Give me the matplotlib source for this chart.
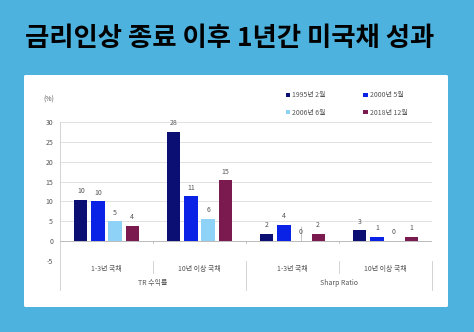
import numpy as np
import matplotlib
matplotlib.use("Agg")
import matplotlib.pyplot as plt
from matplotlib.patches import FancyBboxPatch
import matplotlib.transforms as mtransforms

plt.rcParams['font.family'] = ['Noto Sans CJK KR', 'DejaVu Sans']

# data
title = "금리인상 종료 이후 1년간 미국채 성과"
groups = ["1-3년 국채", "10년 이상 국채", "1-3년 국채", "10년 이상 국채"]
supergroups = ["TR 수익률", "Sharp Ratio"]
series = ["1995년 2월", "2000년 5월", "2006년 6월", "2018년 12월"]
values = [
    [10.3, 27.5, 1.85, 2.7],   # 1995.2
    [10.0, 11.3, 4.1, 1.0],    # 2000.5
    [5.0, 5.7, 0.08, 0.0],     # 2006.6
    [3.9, 15.3, 1.75, 1.1],    # 2018.12
]
labels = [
    ["10", "28", "2", "3"],
    ["10", "11", "4", "1"],
    ["5", "6", "0", "0"],
    ["4", "15", "2", "1"],
]
yticks = [-5, 0, 5, 10, 15, 20, 25, 30]

colors = ["#0b0f73", "#0a22e6", "#8fd2f7", "#7a1a4f"]
bg = "#4db3de"
txt = "#555555"
grid = "#dddddd"

fig = plt.figure(figsize=(4.74, 3.32), dpi=100)
fig.patch.set_facecolor(bg)

# white panel
panel = FancyBboxPatch((24 / 474, 1 - 307 / 332), (448 - 24) / 474, (307 - 75) / 332,
                       boxstyle="round,pad=0,rounding_size=0.004", transform=fig.transFigure,
                       facecolor="white", edgecolor="none", zorder=-5)
fig.patches.append(panel)

fig.text(230 / 474, 1 - 39 / 332, title, ha="center", va="center",
         fontsize=19, fontweight="heavy", color="black")

ax = fig.add_axes([60 / 474, 1 - 261 / 332, (432 - 60) / 474, (261 - 122) / 332])
ax.set_zorder(2)
ax.patch.set_alpha(0)
ax.set_xlim(-0.5, 3.5)
ax.set_ylim(-5, 30)

x = np.arange(len(groups))
w = 0.14
step = 0.183
bars = []
for i, (vals, c) in enumerate(zip(values, colors)):
    b = ax.bar(x + (i - 1.5) * step, vals, width=w, color=c, zorder=3, label=series[i])
    bars.append(b)
    for xi, v, lab in zip(x + (i - 1.5) * step, vals, labels[i]):
        ax.text(xi, v + 1.2, lab, ha="center", va="bottom", fontsize=5, color=txt)

# leader line for tiny bar
ax.vlines(x[2] + 0.5 * step, values[2][2], 3.8, color="#bbbbbb", lw=0.6, zorder=2)

ax.set_yticks(yticks)
ax.set_yticklabels([str(t) for t in yticks], fontsize=5, color=txt)
ax.tick_params(axis="y", length=0, pad=5)
ax.set_xticks([])
for yv in yticks:
    ax.axhline(yv, color=grid, lw=0.6, zorder=1)
ax.axhline(0, color="#bbbbbb", lw=0.7, zorder=2)
for s in ax.spines.values():
    s.set_visible(False)
ax.axvline(-0.5, color="#cccccc", lw=0.6, zorder=1)

# small ticks on zero line
for xb in [0.5, 1.5, 2.5]:
    ax.plot([xb, xb], [0, -0.4], color="#bbbbbb", lw=0.6, zorder=2)

# category table below axis
tr = mtransforms.blended_transform_factory(ax.transData, ax.transAxes)
for xb, low in zip([-0.5, 0.5, 1.5, 2.5, 3.5], [-0.209, -0.086, -0.209, -0.086, -0.209]):
    ax.plot([xb, xb], [0, low], color="#cccccc", lw=0.6, transform=tr, clip_on=False)
for xi, g in zip(x, groups):
    ax.text(xi, -0.058, g, ha="center", va="center", fontsize=5, color=txt, transform=tr)
for k, sg in enumerate(supergroups):
    ax.text(2 * k + 0.5, -0.158, sg, ha="center", va="center", fontsize=5, color=txt, transform=tr)

fig.text(49 / 474, 1 - 100 / 332, "(%)", ha="center", va="center", fontsize=5, color=txt)

# legend filled row by row (ncol=2 fills columns first)
order = [0, 2, 1, 3]
ax.legend(handles=[bars[k] for k in order], ncol=2, loc="center left", frameon=False,
          bbox_to_anchor=(280 / 474, 1 - 104 / 332), bbox_transform=fig.transFigure,
          fontsize=5, handlelength=0.6, handleheight=0.6, handletextpad=0.3,
          columnspacing=5.4, labelspacing=1.3, labelcolor=txt)

fig.savefig("out.png", dpi=100, facecolor=bg)
